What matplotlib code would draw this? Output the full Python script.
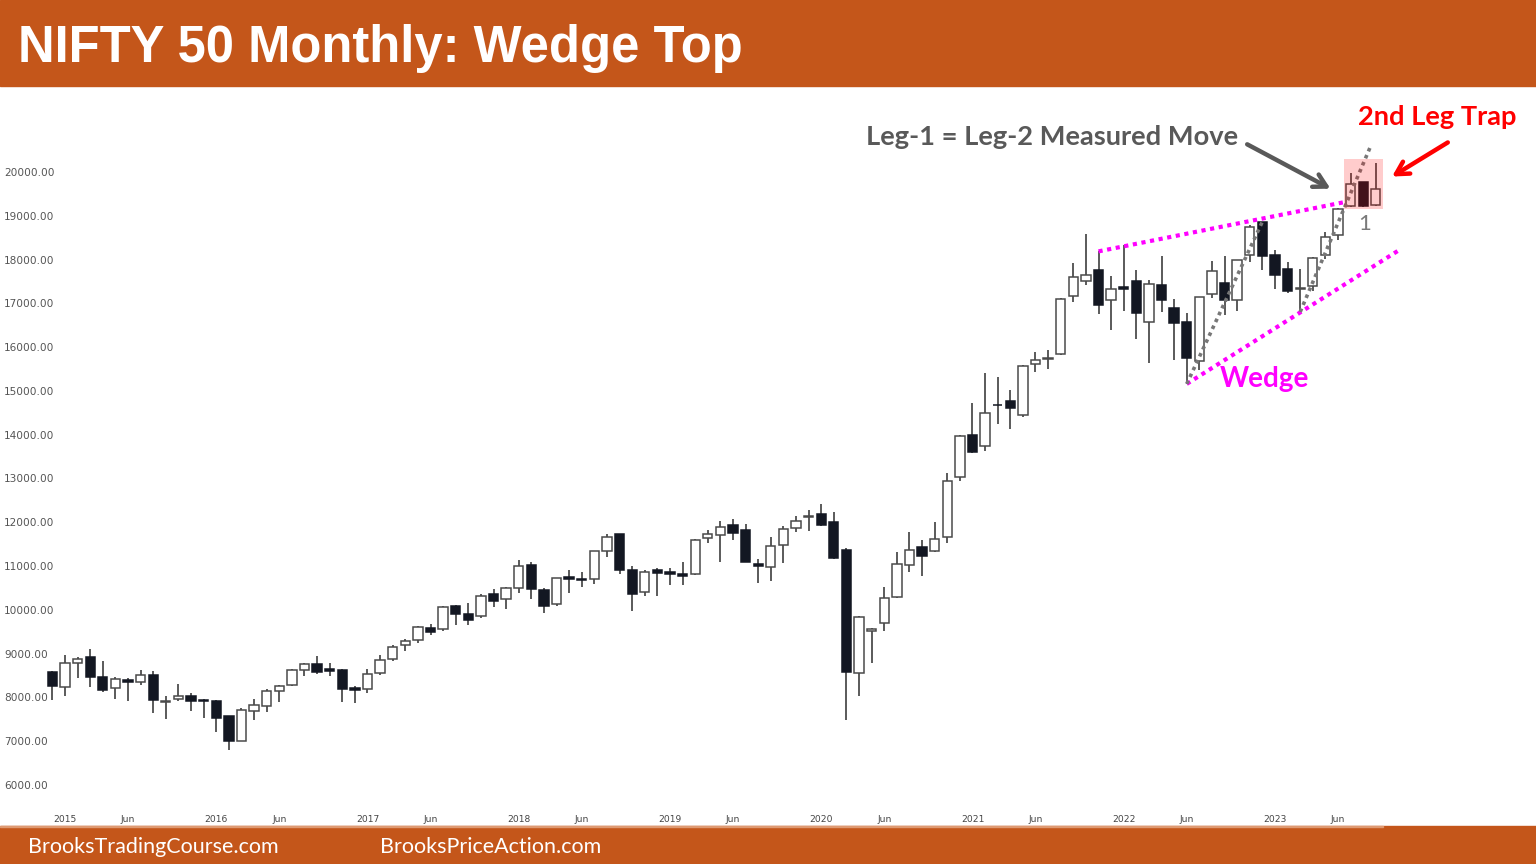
import matplotlib
matplotlib.use("Agg")
import matplotlib.pyplot as plt
from matplotlib.patches import Rectangle

# monthly NIFTY 50 candles, Dec 2014 .. Sep 2023
months = [
    "2014-12",
    "2015-01", "2015-02", "2015-03", "2015-04", "2015-05", "2015-06",
    "2015-07", "2015-08", "2015-09", "2015-10", "2015-11", "2015-12",
    "2016-01", "2016-02", "2016-03", "2016-04", "2016-05", "2016-06",
    "2016-07", "2016-08", "2016-09", "2016-10", "2016-11", "2016-12",
    "2017-01", "2017-02", "2017-03", "2017-04", "2017-05", "2017-06",
    "2017-07", "2017-08", "2017-09", "2017-10", "2017-11", "2017-12",
    "2018-01", "2018-02", "2018-03", "2018-04", "2018-05", "2018-06",
    "2018-07", "2018-08", "2018-09", "2018-10", "2018-11", "2018-12",
    "2019-01", "2019-02", "2019-03", "2019-04", "2019-05", "2019-06",
    "2019-07", "2019-08", "2019-09", "2019-10", "2019-11", "2019-12",
    "2020-01", "2020-02", "2020-03", "2020-04", "2020-05", "2020-06",
    "2020-07", "2020-08", "2020-09", "2020-10", "2020-11", "2020-12",
    "2021-01", "2021-02", "2021-03", "2021-04", "2021-05", "2021-06",
    "2021-07", "2021-08", "2021-09", "2021-10", "2021-11", "2021-12",
    "2022-01", "2022-02", "2022-03", "2022-04", "2022-05", "2022-06",
    "2022-07", "2022-08", "2022-09", "2022-10", "2022-11", "2022-12",
    "2023-01", "2023-02", "2023-03", "2023-04", "2023-05", "2023-06",
    "2023-07", "2023-08", "2023-09",
]
opens = [
    8605,
    8272, 8807, 8953, 8483, 8229, 8417, 8377, 8533, 7908, 7992, 8054, 7954,
    7938, 7589, 7038, 7718, 7822, 8179, 8313, 8654, 8793, 8666, 8653, 8244,
    8210, 8570, 8905, 9220, 9339, 9604, 9587, 10101, 9937, 9893, 10390, 10263,
    10532, 11044, 10479, 10151, 10783, 10738, 10732, 11359, 11751, 10930, 10441, 10931,
    10881, 10851, 10842, 11665, 11726, 11953, 11840, 11060, 11002, 11515, 11890, 12138,
    12202, 12032, 11388, 8584, 9533, 9726, 10323, 11057, 11464, 11364, 11697, 13062,
    14019, 13758, 14702, 14798, 14481, 15629, 15755, 15874, 17183, 17532, 17784, 17104,
    17388, 17529, 16593, 17436, 16924, 16594, 15704, 17244, 17485, 17094, 18130, 18871,
    18131, 17811, 17360, 17428, 18120, 18580, 19246, 19784, 19258,
]
highs = [
    8627,
    8996, 8941, 9119, 8844, 8490, 8467, 8655, 8622, 8055, 8336, 8116, 7979,
    7973, 7600, 7777, 7992, 8213, 8308, 8674, 8819, 8968, 8806, 8669, 8274,
    8672, 8982, 9218, 9367, 9650, 9709, 10115, 10138, 10179, 10385, 10490, 10552,
    11172, 11118, 10526, 10759, 10930, 10893, 11366, 11760, 11752, 11035, 10922, 10985,
    10987, 11118, 11630, 11857, 12041, 12103, 11981, 11182, 11695, 11945, 12159, 12294,
    12430, 12247, 11433, 9889, 9598, 10554, 11341, 11794, 11619, 12025, 13146, 14024,
    14754, 15432, 15337, 15044, 15606, 15916, 15962, 17154, 17948, 18604, 18210, 17640,
    18350, 17794, 17559, 18115, 17133, 16794, 17172, 17992, 18096, 18022, 18816, 18888,
    18251, 17972, 17799, 18089, 18663, 19201, 19991, 19796, 20222,
]
lows = [
    7961,
    8065, 8470, 8269, 8145, 7997, 7940, 8315, 7667, 7540, 7930, 7714, 7551,
    7242, 6825, 7036, 7516, 7679, 7927, 8287, 8518, 8555, 8506, 7916, 7893,
    8133, 8537, 8860, 9075, 9269, 9448, 9544, 9686, 9687, 9832, 10094, 10033,
    10405, 10276, 9952, 10111, 10418, 10550, 10605, 11235, 10850, 10005, 10342, 10334,
    10584, 10586, 10817, 11550, 11108, 11626, 11107, 10637, 10671, 11090, 11802, 11833,
    11930, 11175, 7511, 8055, 8807, 9544, 10300, 10883, 10791, 11347, 11557, 12962,
    13597, 13662, 14265, 14152, 14417, 15451, 15514, 15835, 17055, 17452, 16782, 16410,
    16837, 16203, 15671, 16825, 15736, 15183, 15511, 17155, 16748, 16855, 17959, 17774,
    17353, 17255, 16828, 17312, 18042, 18464, 19234, 19224, 19255,
]
closes = [
    8283,
    8809, 8902, 8491, 8182, 8434, 8369, 8533, 7971, 7949, 8065, 7935, 7946,
    7563, 7029, 7738, 7850, 8160, 8288, 8639, 8786, 8611, 8626, 8224, 8186,
    8561, 8880, 9174, 9304, 9621, 9521, 10077, 9918, 9789, 10335, 10227, 10531,
    11028, 10493, 10114, 10739, 10736, 10714, 11357, 11681, 10930, 10387, 10877, 10863,
    10831, 10793, 11624, 11748, 11923, 11789, 11118, 11023, 11474, 11877, 12056, 12168,
    11962, 11202, 8598, 9860, 9580, 10302, 11073, 11388, 11248, 11642, 12969, 13982,
    13635, 14529, 14691, 14631, 15583, 15722, 15763, 17132, 17618, 17672, 16983, 17354,
    17340, 16794, 17465, 17103, 16585, 15780, 17158, 17759, 17094, 18012, 18758, 18105,
    17662, 17304, 17360, 18065, 18534, 19189, 19754, 19254, 19638,
]

price_levels = list(range(6000, 21000, 1000))

# annotation anchors (month index, price)
upper_wedge = [(83, 18210), (102.6, 19340)]
lower_wedge = [(90, 15183), (106.8, 18230)]
leg1 = [(90, 15183), (96, 18888)]
leg2 = [(99, 16828), (104.6, 20620)]

BAND = "#C4561A"

fig = plt.figure(figsize=(15.36, 8.64), dpi=100)
fig.patches.append(Rectangle((0, 778 / 864), 1, 86 / 864, transform=fig.transFigure,
                             color=BAND, zorder=0))
fig.patches.append(Rectangle((0, 0), 1, 38 / 864, transform=fig.transFigure,
                             color=BAND, zorder=0))
fig.patches.append(Rectangle((0, 37 / 864), 1383 / 1536, 1.5 / 864, transform=fig.transFigure,
                             color="#DE9A72", zorder=1))

fig.text(18 / 1536, 802 / 864, "NIFTY 50 Monthly: Wedge Top", color="white",
         fontsize=36.5, fontweight="bold", family="Liberation Sans", va="baseline")
fig.text(28 / 1536, 11 / 864, "BrooksTradingCourse.com", color="white",
         fontsize=15.5, family="Lato", va="baseline")
fig.text(380 / 1536, 11 / 864, "BrooksPriceAction.com", color="white",
         fontsize=15.5, family="Lato", va="baseline")

ax = fig.add_axes([0, 38 / 864, 1, 740 / 864])
ax.set_xlim(-4.157, 117.71)
ax.set_ylim(5086, 21987)
ax.axis("off")

x = list(range(len(months)))
body_bottom = [min(o, c) for o, c in zip(opens, closes)]
body_height = [max(abs(c - o), 14) for o, c in zip(opens, closes)]
face = ["white" if c >= o else "#131722" for o, c in zip(opens, closes)]
edge = ["#4a4a4a" if c >= o else "#131722" for o, c in zip(opens, closes)]

ax.vlines(x, lows, highs, color="#4d4d4d", linewidth=1.3, zorder=2)
ax.bar(x, body_height, bottom=body_bottom, width=0.74, color=face,
       edgecolor=edge, linewidth=1.1, zorder=3)

# axis labels drawn inside the plot area like the source chart
for v in price_levels:
    ax.text(4 / 1536, v, f"{v:.2f}", transform=ax.get_yaxis_transform(),
            fontsize=7.6, color="#555555", va="center", ha="left")
for i, m in enumerate(months):
    yr, mo = m.split("-")
    if mo == "01":
        lab = yr
    elif mo == "06":
        lab = "Jun"
    else:
        continue
    ax.text(i, 7 / 740, lab, transform=ax.get_xaxis_transform(),
            fontsize=6.6, color="#444444", ha="center", va="center")

# wedge lines and measured move legs
for seg in (upper_wedge, lower_wedge):
    ax.plot([p[0] for p in seg], [p[1] for p in seg], color="#FF00FF",
            linewidth=3.0, linestyle=(0, (1, 1.1)), dash_capstyle="butt", zorder=4)
for seg in (leg1, leg2):
    ax.plot([p[0] for p in seg], [p[1] for p in seg], color="#777777",
            linewidth=2.6, linestyle=(0, (1, 1.1)), dash_capstyle="butt", zorder=4)

# trap box over the last three bars
ax.add_patch(Rectangle((102.5, 19180), 3.1, 1140, facecolor="red", alpha=0.2,
                       edgecolor="none", zorder=5))
ax.text(104.1, 18840, "1", fontsize=16, family="Lato", color="#7a7a7a",
        ha="center", va="center", zorder=6)

ax.annotate("", xy=(101.6, 19612), xytext=(94.6, 20685),
            arrowprops=dict(arrowstyle="->,head_length=0.9,head_width=0.5",
                            color="#595959", lw=3.2), zorder=6)
ax.annotate("", xy=(106.1, 19886), xytext=(110.9, 20731),
            arrowprops=dict(arrowstyle="->,head_length=0.9,head_width=0.5",
                            color="#FF0000", lw=3.2), zorder=6)

ax.text(79.3, 20822, "Leg-1 = Leg-2 Measured Move", fontsize=19.6, fontweight="bold",
        family="Lato", color="#595959", ha="center", va="center")
ax.text(109.9, 21279, "2nd Leg Trap", fontsize=19.6, fontweight="bold",
        family="Lato", color="#FF0000", ha="center", va="center")
ax.text(96.2, 15295, "Wedge", fontsize=20, fontweight="bold",
        family="Lato", color="#FF00FF", ha="center", va="center")

fig.savefig("out.png", dpi=100)
